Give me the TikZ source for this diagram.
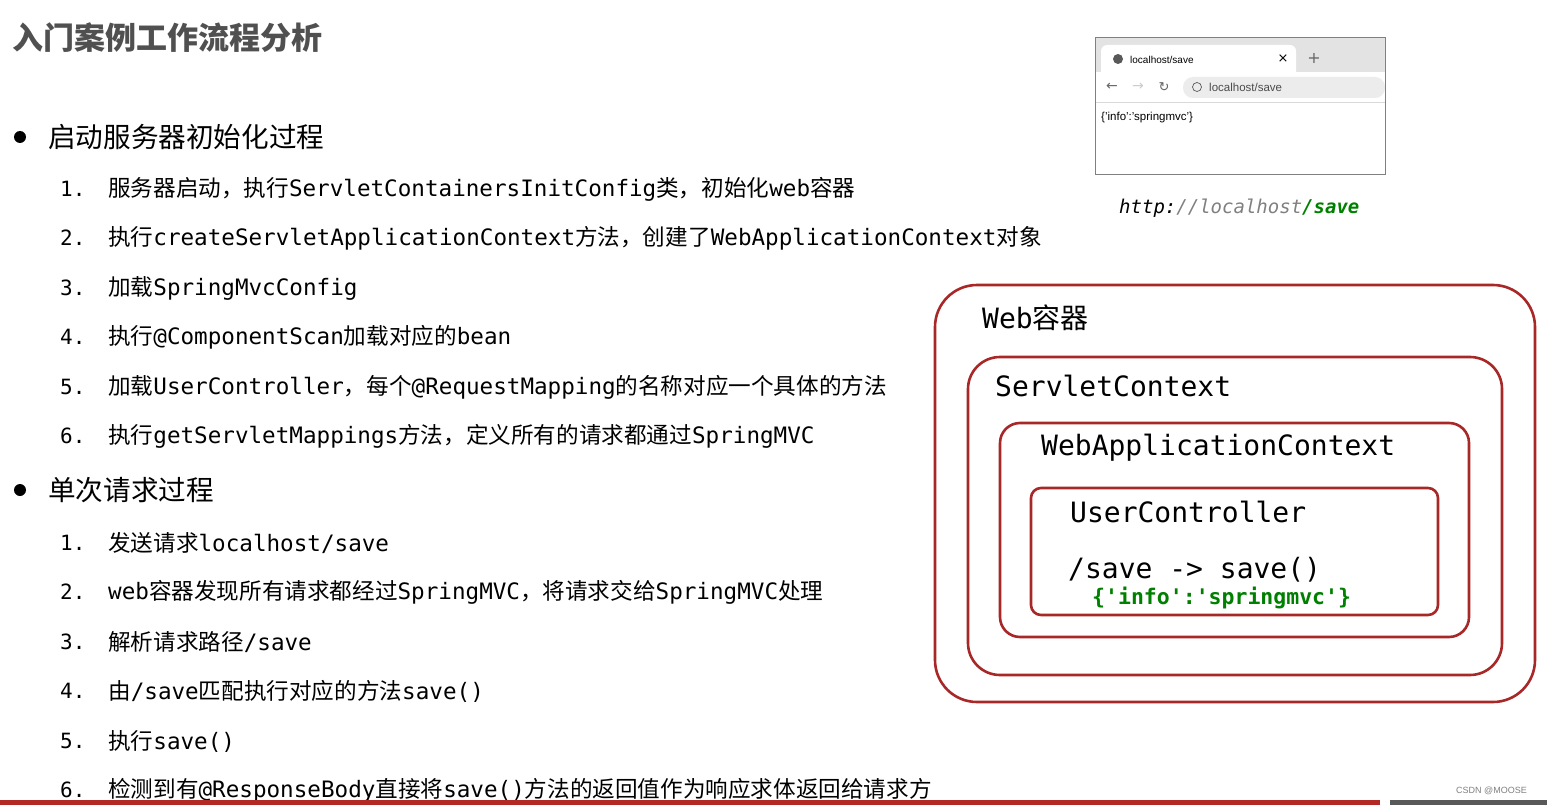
\documentclass[tikz,border=0pt]{standalone}
\usepackage{fontspec}
\setmainfont{Noto Sans CJK SC}
\setsansfont{Liberation Sans}
\setmonofont{DejaVu Sans Mono}
\newfontfamily\dvfont{DejaVu Sans}
\newcommand\mm[1]{{\ttfamily #1}}
\definecolor{boxred}{RGB}{168,40,40}
\definecolor{titlegray}{RGB}{80,80,80}
\definecolor{jsongreen}{RGB}{0,128,0}
\definecolor{barred}{RGB}{178,40,36}
\begin{document}
\begin{tikzpicture}[x=1pt,y=-1pt,
  item/.style={anchor=west,inner sep=0pt,font=\fontsize{22.6}{24}\selectfont},
  num/.style={anchor=west,inner sep=0pt,font=\fontsize{21}{24}\ttfamily},
  head/.style={anchor=west,inner sep=0pt,font=\fontsize{27.6}{30}\selectfont},
  cbox/.style={draw=boxred,line width=2.6pt},
  btxt/.style={anchor=west,inner sep=0pt,font=\fontsize{28}{30}\ttfamily},
  btext/.style={anchor=west,inner sep=0pt,font=\fontsize{10}{11}\sffamily}]
\useasboundingbox (0,0) rectangle (1547,805);
\fill[white] (0,0) rectangle (1547,805);
\node[anchor=west,inner sep=0pt,font=\fontsize{31}{34}\bfseries,text=titlegray] (title) at (12,38) {入门案例工作流程分析};
% bullets
\fill (20,137) circle (6) ;
\node[head] (h1) at (48,137) {启动服务器初始化过程};
\fill (20,490) circle (6);
\node[head] (h2) at (48,490) {单次请求过程};
\foreach \n/\y in {1/189,2/238,3/288,4/337,5/387,6/436,1/543,2/592,3/642,4/691,5/741,6/790}
  \node[num] at (60,\y) {\n.};
\node[item] (a1) at (108,189) {服务器启动，执行\mm{ServletContainersInitConfig}类，初始化\mm{web}容器};
\node[item] (a2) at (108,238) {执行\mm{createServletApplicationContext}方法，创建了\mm{WebApplicationContext}对象};
\node[item] (a3) at (108,288) {加载\mm{SpringMvcConfig}};
\node[item] (a4) at (108,337) {执行\mm{@ComponentScan}加载对应的\mm{bean}};
\node[item] (a5) at (108,387) {加载\mm{UserController}，每个\mm{@RequestMapping}的名称对应一个具体的方法};
\node[item] (a6) at (108,436) {执行\mm{getServletMappings}方法，定义所有的请求都通过\mm{SpringMVC}};
\node[item] (b1) at (108,543) {发送请求\mm{localhost/save}};
\node[item] (b2) at (108,592) {\mm{web}容器发现所有请求都经过\mm{SpringMVC}，将请求交给\mm{SpringMVC}处理};
\node[item] (b3) at (108,642) {解析请求路径\mm{/save}};
\node[item] (b4) at (108,691) {由\mm{/save}匹配执行对应的方法\mm{save()}};
\node[item] (b5) at (108,741) {执行\mm{save()}};
\node[item] (b6) at (108,790) {检测到有\mm{@ResponseBody}直接将\mm{save()}方法的返回值作为响应求体返回给请求方};
% container boxes
\draw[cbox,rounded corners=42] (935,285) rectangle (1535,702);
\draw[cbox,rounded corners=32] (968,357) rectangle (1502,675);
\draw[cbox,rounded corners=20] (1000,423) rectangle (1469,637);
\draw[cbox,rounded corners=10] (1031,488) rectangle (1438,615);
\node[btxt] (w) at (982,318) {Web{\rmfamily 容器}};
\node[btxt] (s) at (995,386) {ServletContext};
\node[btxt] (wa) at (1041,448) {WebApplicationContext};
\node[btxt] (u) at (1070,512) {UserController};
\node[btxt] (sv) at (1068,570) {/save -> save()};
\node[anchor=west,inner sep=0pt,font=\fontsize{21.5}{24}\ttfamily\bfseries,text=jsongreen] (js) at (1092,598) {\{'info':'springmvc'\}};
% browser
\fill[gray!22] (1095,38) rectangle (1385,72);
\fill[white,rounded corners=6] (1101,45) rectangle (1296,80);
\fill[white] (1095,72) rectangle (1385,175);
\fill[gray!15,rounded corners=10] (1183,77) rectangle (1385,98);
\draw[gray!30] (1095,102) -- (1385,102);
\draw[gray,line width=1pt] (1095,38) rectangle (1385,175);
\fill[gray!70!black] (1118,59) circle (5);
\node[btext] (tab) at (1130,60) {localhost/save};
\node[anchor=center,inner sep=0pt,font=\fontsize{13}{14}\dvfont] (x) at (1283,59) {×};
\node[anchor=center,inner sep=0pt,font=\fontsize{16}{16}\dvfont,text=gray!80!black] (plus) at (1314,58) {+};
\node[anchor=center,inner sep=0pt,font=\fontsize{14}{14}\dvfont,text=gray!80!black] (back) at (1112,87) {←};
\node[anchor=center,inner sep=0pt,font=\fontsize{14}{14}\dvfont,text=gray!40] (fwd) at (1138,87) {→};
\node[anchor=center,inner sep=0pt,font=\fontsize{13}{14}\dvfont,text=gray!80!black] (rel) at (1164,87) {↻};
\draw[gray!70!black,line width=0.7pt] (1197,87) circle (4.5);
\node[btext,font=\fontsize{11.5}{12}\sffamily,text=gray!60!black] (addr) at (1209,87) {localhost/save};
\node[btext,font=\fontsize{11.5}{12}\sffamily] (json) at (1101,118) {\{'info':'springmvc'\}};
\node[anchor=west,inner sep=0pt,font=\fontsize{19}{22}\ttfamily\itshape] (url) at (1119,208)
  {http:\textcolor{gray}{//localhost}\textcolor{jsongreen}{\bfseries/save}};
% footer
\fill[barred] (0,800) rectangle (1380,805);
\fill[gray!70!black] (1390,800) rectangle (1547,805);
\node[anchor=west,inner sep=0pt,font=\fontsize{9}{10}\sffamily,text=gray] (cr) at (1456,791) {CSDN @MOOSE};
\end{tikzpicture}
\end{document}
